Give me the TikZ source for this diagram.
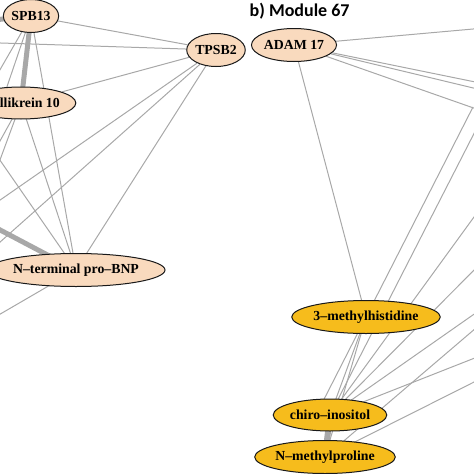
\documentclass[tikz,border=0pt]{standalone}
\usepackage{fontspec}
\setmainfont{Liberation Serif}
\newfontfamily\titlefont{Carlito}
\usetikzlibrary{shapes.geometric,backgrounds,calc}
\definecolor{peach}{RGB}{249,218,190}
\definecolor{gold}{RGB}{246,188,28}
\definecolor{edgegray}{RGB}{168,168,168}
\begin{document}
\begin{tikzpicture}[x=1pt,y=-1pt,
  prot/.style={ellipse,draw=black!90,line width=1pt,fill=peach,inner sep=0pt,
    font=\bfseries\fontsize{13.8}{14}\selectfont},
  metab/.style={prot,fill=gold},
  edge/.style={draw=edgegray,line width=1pt},
  heavyedge/.style={draw=edgegray,line width=5pt}]
\useasboundingbox (0,0) rectangle (474,474);
\clip (0,0) rectangle (474,474);
% nodes
\node[prot,minimum width=52pt,minimum height=33pt] (spb) at (31,16) {SPB13};
\node[prot,minimum width=52pt,minimum height=33pt] (tpsb) at (216,50) {TPSB2};
\node[prot,minimum width=94pt,minimum height=32pt] (kal) at (21,103) {Kallikrein 10};
\node[prot,minimum width=144pt,minimum height=33pt] (nt) at (76,270) {N–terminal pro–BNP};
\node[prot,minimum width=70pt,minimum height=33pt] (adam) at (294,45) {ADAM 17};
\node[metab,minimum width=116pt,minimum height=33pt] (mh) at (366,317) {3–methylhistidine};
\node[metab,minimum width=95pt,minimum height=32pt] (chiro) at (330,415) {chiro–inositol};
\node[metab,minimum width=118pt,minimum height=33pt] (nmp) at (325,457) {N–methylproline};
\node[font=\titlefont\bfseries\fontsize{18}{19}\selectfont,anchor=base west,inner sep=0pt] (title) at (249.5,16.5) {b) Module 67};
% off-picture ends
\coordinate (l1) at (-30,42);
\coordinate (l2) at (-20,214);
\coordinate (l3) at (-10,251);
\coordinate (l4) at (-10,87);
\coordinate (l5) at (-5,122);
\coordinate (l6) at (-5,150);
\coordinate (l7) at (-3,168);
\coordinate (l8) at (-5,153);
\coordinate (l9) at (-10,320);
\coordinate (t1) at (-15,222);
\coordinate (t2) at (-25,272);
\coordinate (t3) at (-25,22);
\coordinate (r1) at (490,27.5);
\coordinate (r2) at (490,85);
\coordinate (r3) at (490,92);
\coordinate (r4) at (485,112);
\coordinate (ra) at (473,107);
\coordinate (r6) at (490,195);
\coordinate (r7) at (490,254);
\coordinate (r8) at (490,303);
\coordinate (r9) at (490,316);
\coordinate (r10) at (490,352);
\coordinate (r11) at (490,374);
\begin{scope}[on background layer]
% left panel
\draw[edge] (spb) -- (tpsb);
\draw[edge] (kal) -- (tpsb);
\draw[edge] (tpsb) -- (nt);
\draw[edge] (spb.center) -- (nt.center);
\draw[edge] (kal.center) -- (nt.center);
\draw[edge] (l1) -- (tpsb);
\draw[edge] (tpsb) -- (l2);
\draw[edge] (tpsb) -- (l3);
\draw[edge] (spb.center) -- (l4);
\draw[edge] (spb.center) -- (l5);
\draw[edge] (kal.center) -- (l6);
\draw[edge] (kal.center) -- (l7);
\draw[edge] (l8) -- (nt.center);
\draw[edge] (nt.center) -- (l9);
\draw[heavyedge] (spb.center) -- (kal.center);
\draw[heavyedge] (t1) -- (nt.center);
\draw[heavyedge] (t2) -- (nt.center);
\draw[heavyedge] (t3) -- (spb.center);
% right panel
\draw[edge] (adam) -- (r1);
\draw[edge] (adam) -- (r2);
\draw[edge] (adam) -- (r3);
\draw[edge] (adam) -- (r4);
\draw[edge] (adam.center) -- (mh.center);
\draw[edge] (r4) -- (chiro.center);
\draw[edge] (ra) -- ($(chiro.center)+(-14,0)$);
\draw[edge] (r6) -- (chiro.center);
\draw[edge] (r7) -- (chiro.center);
\draw[edge] (r8) -- (chiro.center);
\draw[edge] (r9) -- (nmp.center);
\draw[edge] (r10) -- (chiro.center);
\draw[edge] (r11) -- (nmp.center);
\draw[edge] (mh.center) -- (chiro.center);
\draw[edge] (mh.center) -- (nmp.center);
\draw[heavyedge,line width=6pt] (chiro.center) -- (nmp.center);
\end{scope}
\end{tikzpicture}
\end{document}
